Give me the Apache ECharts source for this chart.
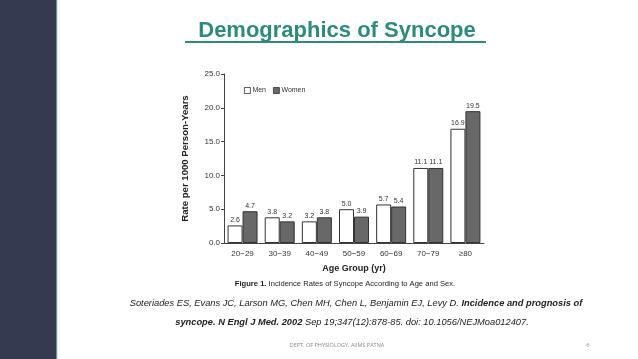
<!DOCTYPE html>
<html><head><meta charset="utf-8">
<script src="https://cdn.jsdelivr.net/npm/echarts@6/dist/echarts.min.js"></script>
<style>html,body{margin:0;padding:0;background:#fff}#c{width:638px;height:359px}</style>
</head><body><div id="c"></div>
<script>
const categories = ['20\u221229','30\u221239','40\u221249','50\u221259','60\u221269','70\u221279','\u226580'];
const men = [2.6, 3.8, 3.2, 5.0, 5.7, 11.1, 16.9];
const women = [4.7, 3.2, 3.8, 3.9, 5.4, 11.1, 19.5];
const yTicks = [0, 5, 10, 15, 20, 25];

const chart = echarts.init(document.getElementById('c'), null, {renderer:'canvas'});
const lbl = {show:true, position:'top', fontSize:7, color:'#333', distance:2, formatter: p => p.value.toFixed(1), fontFamily:'Liberation Sans'};
chart.setOption({
  animation:false,
  textStyle:{fontFamily:'Liberation Sans'},
  grid:{left:224, right:154, top:74, bottom:116},
  legend:{left:239, top:82, itemWidth:6, itemHeight:6, itemGap:7,
    textStyle:{fontSize:7, color:'#333', padding:[0,0,0,-3]},
    data:[{name:'Men', icon:'rect', itemStyle:{borderWidth:0.8}},{name:'Women', icon:'rect', itemStyle:{borderWidth:0.8}}]},
  xAxis:{type:'category', data:categories,
    axisLine:{lineStyle:{color:'#444', width:1}}, axisTick:{show:false},
    axisLabel:{fontSize:8, color:'#333', margin:7},
    name:'Age Group (yr)', nameLocation:'middle', nameGap:21,
    nameTextStyle:{fontSize:9, color:'#222', fontWeight:'bold'}},
  yAxis:{type:'value', min:yTicks[0], max:yTicks[yTicks.length-1], interval:5,
    splitLine:{show:false},
    axisLine:{show:true, lineStyle:{color:'#444'}},
    axisTick:{show:true, length:3, lineStyle:{color:'#444'}},
    axisLabel:{fontSize:8, color:'#333', margin:4, formatter: v => v.toFixed(1)},
    name:'Rate per 1000 Person-Years', nameLocation:'middle', nameGap:34,
    nameTextStyle:{fontSize:9.6, color:'#222', fontWeight:'bold'}},
  series:[
    {name:'Men', type:'bar', data:men, barWidth:15, barGap:'0%',
      itemStyle:{color:'#ffffff', borderColor:'#333', borderWidth:1}, label:lbl},
    {name:'Women', type:'bar', data:women, barWidth:15,
      itemStyle:{color:'#686868', borderColor:'#333', borderWidth:1}, label:lbl}
  ],
  graphic:[
    {type:'rect', shape:{x:0,y:0,width:56,height:359}, style:{fill:'#343b50'}},
    {type:'rect', shape:{x:56,y:0,width:1.2,height:359}, style:{fill:'#5f9a9a'}},
    {type:'text', x:337, y:31, style:{text:'Demographics of Syncope', fill:'#2b8c7e', font:'bold 22px "Liberation Sans"', textAlign:'center', textVerticalAlign:'middle'}},
    {type:'rect', shape:{x:185,y:41,width:301,height:2}, style:{fill:'#2b8c7e'}},
    {type:'text', x:345, y:284, style:{rich:{b:{font:'bold 7.6px "Liberation Sans"', fill:'#222'}, n:{font:'7.6px "Liberation Sans"', fill:'#222'}}, text:'{b|Figure 1.}{n| Incidence Rates of Syncope According to Age and Sex.}', textAlign:'center', textVerticalAlign:'middle'}},
    {type:'text', x:356, y:303, style:{rich:{i:{font:'italic 9.3px "Liberation Sans"', fill:'#222'}, b:{font:'italic bold 9.3px "Liberation Sans"', fill:'#222'}}, text:'{i|Soteriades ES, Evans JC, Larson MG, Chen MH, Chen L, Benjamin EJ, Levy D. }{b|Incidence and prognosis of}', textAlign:'center', textVerticalAlign:'middle'}},
    {type:'text', x:352, y:322, style:{rich:{i:{font:'italic 9.3px "Liberation Sans"', fill:'#222'}, b:{font:'italic bold 9.3px "Liberation Sans"', fill:'#222'}}, text:'{b|syncope. N Engl J Med. 2002}{i| Sep 19;347(12):878-85. doi: 10.1056/NEJMoa012407.}', textAlign:'center', textVerticalAlign:'middle'}},
    {type:'text', x:337, y:345, style:{text:'DEPT. OF PHYSIOLOGY, AIIMS PATNA', fill:'#888', font:'5.5px "Open Sans"', textAlign:'center', textVerticalAlign:'middle'}},
    {type:'text', x:588, y:345, style:{text:'6', fill:'#888', font:'6px "Open Sans"', textAlign:'center', textVerticalAlign:'middle'}}
  ]
});
</script></body></html>
